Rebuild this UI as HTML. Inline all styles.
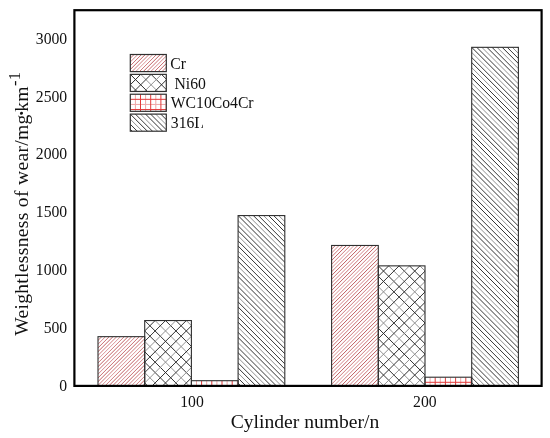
<!DOCTYPE html>
<html><head><meta charset="utf-8"><title>Weightlessness of wear</title>
<style>
html,body{margin:0;padding:0;background:#fff;}
body{width:550px;height:438px;overflow:hidden;}
svg{display:block;}
text{font-family:"Liberation Serif","Times New Roman",serif;fill:#111;}
</style></head><body>
<svg width="550" height="438" viewBox="0 0 550 438">
<rect x="0" y="0" width="550" height="438" fill="#fff"/>
<clipPath id="c1"><rect x="98" y="336.66" width="46.7" height="49.24"/></clipPath>
<g clip-path="url(#c1)" fill="none">
<path d="M102.75,335.66L51.51,386.9M110.25,335.66L59.01,386.9M132.75,335.66L81.51,386.9M140.25,335.66L89.01,386.9M162.75,335.66L111.51,386.9M170.25,335.66L119.01,386.9M192.75,335.66L141.51,386.9" stroke="#c6666a" stroke-width="0.95"/>
<path d="M106.5,335.66L55.26,386.9M136.5,335.66L85.26,386.9M166.5,335.66L115.26,386.9" stroke="#d28185" stroke-width="0.95"/>
<path d="M114,335.66L62.76,386.9M129,335.66L77.76,386.9M144,335.66L92.76,386.9M159,335.66L107.76,386.9M174,335.66L122.76,386.9M189,335.66L137.76,386.9" stroke="#bd5558" stroke-width="0.95"/>
<path d="M117.75,335.66L66.51,386.9M125.25,335.66L74.01,386.9M147.75,335.66L96.51,386.9M155.25,335.66L104.01,386.9M177.75,335.66L126.51,386.9M185.25,335.66L134.01,386.9" stroke="#cb7276" stroke-width="0.95"/>
<path d="M121.5,335.66L70.26,386.9M151.5,335.66L100.26,386.9M181.5,335.66L130.26,386.9" stroke="#d88e91" stroke-width="0.95"/>
</g>
<rect x="98" y="336.66" width="46.7" height="49.24" fill="none" stroke="#303030" stroke-width="1.1"/>
<clipPath id="c2"><rect x="144.7" y="320.55" width="46.7" height="65.35"/></clipPath>
<g clip-path="url(#c2)" fill="none">
<path d="M70.9,319.55L138.25,386.9M102.1,319.55L169.45,386.9M133.3,319.55L200.65,386.9M164.5,319.55L231.85,386.9" stroke="#2c2c2c" stroke-width="0.95"/>
<path d="M81.3,319.55L148.65,386.9M112.5,319.55L179.85,386.9M143.7,319.55L211.05,386.9M174.9,319.55L242.25,386.9" stroke="#242424" stroke-width="0.95"/>
<path d="M91.7,319.55L159.05,386.9M122.9,319.55L190.25,386.9M154.1,319.55L221.45,386.9M185.3,319.55L252.65,386.9" stroke="#8a8a8a" stroke-width="0.95"/>
<path d="M156.1,319.55L88.75,386.9M187.3,319.55L119.95,386.9M218.5,319.55L151.15,386.9M249.7,319.55L182.35,386.9" stroke="#242424" stroke-width="0.95"/>
<path d="M166.5,319.55L99.15,386.9M197.7,319.55L130.35,386.9M228.9,319.55L161.55,386.9" stroke="#2c2c2c" stroke-width="0.95"/>
<path d="M176.9,319.55L109.55,386.9M208.1,319.55L140.75,386.9M239.3,319.55L171.95,386.9" stroke="#8a8a8a" stroke-width="0.95"/>
</g>
<rect x="144.7" y="320.55" width="46.7" height="65.35" fill="none" stroke="#303030" stroke-width="1.1"/>
<clipPath id="c3"><rect x="191.4" y="380.69" width="46.7" height="5.21"/></clipPath>
<g clip-path="url(#c3)" fill="none">
<path d="M196.5,380.69V385.9M206.7,380.69V385.9M216.9,380.69V385.9M227.1,380.69V385.9M237.3,380.69V385.9" stroke="#efa6a6" stroke-width="1"/>
<path d="M201.6,380.69V385.9M211.8,380.69V385.9M222,380.69V385.9M232.2,380.69V385.9M191.4,385.79H238.1" stroke="#e23a3a" stroke-width="1"/>
</g>
<rect x="191.4" y="380.69" width="46.7" height="5.21" fill="none" stroke="#303030" stroke-width="1.1"/>
<clipPath id="c4"><rect x="238.1" y="215.57" width="46.7" height="170.33"/></clipPath>
<g clip-path="url(#c4)" fill="none">
<path d="M64.38,214.57L236.71,386.9M79.62,214.57L251.95,386.9M94.86,214.57L267.19,386.9M110.1,214.57L282.43,386.9M125.34,214.57L297.67,386.9M140.58,214.57L312.91,386.9M155.82,214.57L328.15,386.9M171.06,214.57L343.39,386.9M186.3,214.57L358.63,386.9M201.54,214.57L373.87,386.9M216.78,214.57L389.11,386.9M232.02,214.57L404.35,386.9M247.26,214.57L419.59,386.9M262.5,214.57L434.83,386.9M277.74,214.57L450.07,386.9" stroke="#8a8a8a" stroke-width="0.95"/>
<path d="M69.46,214.57L241.79,386.9M84.7,214.57L257.03,386.9M99.94,214.57L272.27,386.9M115.18,214.57L287.51,386.9M130.42,214.57L302.75,386.9M145.66,214.57L317.99,386.9M160.9,214.57L333.23,386.9M176.14,214.57L348.47,386.9M191.38,214.57L363.71,386.9M206.62,214.57L378.95,386.9M221.86,214.57L394.19,386.9M237.1,214.57L409.43,386.9M252.34,214.57L424.67,386.9M267.58,214.57L439.91,386.9M282.82,214.57L455.15,386.9" stroke="#262626" stroke-width="0.95"/>
<path d="M74.54,214.57L246.87,386.9M89.78,214.57L262.11,386.9M105.02,214.57L277.35,386.9M120.26,214.57L292.59,386.9M135.5,214.57L307.83,386.9M150.74,214.57L323.07,386.9M165.98,214.57L338.31,386.9M181.22,214.57L353.55,386.9M196.46,214.57L368.79,386.9M211.7,214.57L384.03,386.9M226.94,214.57L399.27,386.9M242.18,214.57L414.51,386.9M257.42,214.57L429.75,386.9M272.66,214.57L444.99,386.9" stroke="#2e2e2e" stroke-width="0.95"/>
</g>
<rect x="238.1" y="215.57" width="46.7" height="170.33" fill="none" stroke="#303030" stroke-width="1.1"/>
<clipPath id="c5"><rect x="331.6" y="245.47" width="46.7" height="140.43"/></clipPath>
<g clip-path="url(#c5)" fill="none">
<path d="M336.35,244.47L193.92,386.9M343.85,244.47L201.42,386.9M366.35,244.47L223.92,386.9M373.85,244.47L231.42,386.9M396.35,244.47L253.92,386.9M403.85,244.47L261.42,386.9M426.35,244.47L283.92,386.9M433.85,244.47L291.42,386.9M456.35,244.47L313.92,386.9M463.85,244.47L321.42,386.9M486.35,244.47L343.92,386.9M493.85,244.47L351.42,386.9M516.35,244.47L373.92,386.9" stroke="#c6666a" stroke-width="0.95"/>
<path d="M340.1,244.47L197.67,386.9M370.1,244.47L227.67,386.9M400.1,244.47L257.67,386.9M430.1,244.47L287.67,386.9M460.1,244.47L317.67,386.9M490.1,244.47L347.67,386.9M520.1,244.47L377.67,386.9" stroke="#d28185" stroke-width="0.95"/>
<path d="M347.6,244.47L205.17,386.9M362.6,244.47L220.17,386.9M377.6,244.47L235.17,386.9M392.6,244.47L250.17,386.9M407.6,244.47L265.17,386.9M422.6,244.47L280.17,386.9M437.6,244.47L295.17,386.9M452.6,244.47L310.17,386.9M467.6,244.47L325.17,386.9M482.6,244.47L340.17,386.9M497.6,244.47L355.17,386.9M512.6,244.47L370.17,386.9" stroke="#bd5558" stroke-width="0.95"/>
<path d="M351.35,244.47L208.92,386.9M358.85,244.47L216.42,386.9M381.35,244.47L238.92,386.9M388.85,244.47L246.42,386.9M411.35,244.47L268.92,386.9M418.85,244.47L276.42,386.9M441.35,244.47L298.92,386.9M448.85,244.47L306.42,386.9M471.35,244.47L328.92,386.9M478.85,244.47L336.42,386.9M501.35,244.47L358.92,386.9M508.85,244.47L366.42,386.9" stroke="#cb7276" stroke-width="0.95"/>
<path d="M355.1,244.47L212.67,386.9M385.1,244.47L242.67,386.9M415.1,244.47L272.67,386.9M445.1,244.47L302.67,386.9M475.1,244.47L332.67,386.9M505.1,244.47L362.67,386.9" stroke="#d88e91" stroke-width="0.95"/>
</g>
<rect x="331.6" y="245.47" width="46.7" height="140.43" fill="none" stroke="#303030" stroke-width="1.1"/>
<clipPath id="c6"><rect x="378.3" y="265.86" width="46.7" height="120.04"/></clipPath>
<g clip-path="url(#c6)" fill="none">
<path d="M252.5,264.86L374.54,386.9M283.7,264.86L405.74,386.9M314.9,264.86L436.94,386.9M346.1,264.86L468.14,386.9M377.3,264.86L499.34,386.9M408.5,264.86L530.54,386.9" stroke="#242424" stroke-width="0.95"/>
<path d="M262.9,264.86L384.94,386.9M294.1,264.86L416.14,386.9M325.3,264.86L447.34,386.9M356.5,264.86L478.54,386.9M387.7,264.86L509.74,386.9M418.9,264.86L540.94,386.9" stroke="#8a8a8a" stroke-width="0.95"/>
<path d="M273.3,264.86L395.34,386.9M304.5,264.86L426.54,386.9M335.7,264.86L457.74,386.9M366.9,264.86L488.94,386.9M398.1,264.86L520.14,386.9" stroke="#2c2c2c" stroke-width="0.95"/>
<path d="M389.7,264.86L267.66,386.9M420.9,264.86L298.86,386.9M452.1,264.86L330.06,386.9M483.3,264.86L361.26,386.9M514.5,264.86L392.46,386.9M545.7,264.86L423.66,386.9" stroke="#242424" stroke-width="0.95"/>
<path d="M400.1,264.86L278.06,386.9M431.3,264.86L309.26,386.9M462.5,264.86L340.46,386.9M493.7,264.86L371.66,386.9M524.9,264.86L402.86,386.9" stroke="#2c2c2c" stroke-width="0.95"/>
<path d="M410.5,264.86L288.46,386.9M441.7,264.86L319.66,386.9M472.9,264.86L350.86,386.9M504.1,264.86L382.06,386.9M535.3,264.86L413.26,386.9" stroke="#8a8a8a" stroke-width="0.95"/>
</g>
<rect x="378.3" y="265.86" width="46.7" height="120.04" fill="none" stroke="#303030" stroke-width="1.1"/>
<clipPath id="c7"><rect x="425" y="377.21" width="46.7" height="8.69"/></clipPath>
<g clip-path="url(#c7)" fill="none">
<path d="M430.1,377.21V385.9M440.3,377.21V385.9M450.5,377.21V385.9M460.7,377.21V385.9M470.9,377.21V385.9" stroke="#efa6a6" stroke-width="1"/>
<path d="M435.2,377.21V385.9M445.4,377.21V385.9M455.6,377.21V385.9M465.8,377.21V385.9M425,382.31H471.7" stroke="#e23a3a" stroke-width="1"/>
</g>
<rect x="425" y="377.21" width="46.7" height="8.69" fill="none" stroke="#303030" stroke-width="1.1"/>
<clipPath id="c8"><rect x="471.7" y="47.33" width="46.7" height="338.57"/></clipPath>
<g clip-path="url(#c8)" fill="none">
<path d="M130.34,46.33L470.91,386.9M145.58,46.33L486.15,386.9M160.82,46.33L501.39,386.9M176.06,46.33L516.63,386.9M191.3,46.33L531.87,386.9M206.54,46.33L547.11,386.9M221.78,46.33L562.35,386.9M237.02,46.33L577.59,386.9M252.26,46.33L592.83,386.9M267.5,46.33L608.07,386.9M282.74,46.33L623.31,386.9M297.98,46.33L638.55,386.9M313.22,46.33L653.79,386.9M328.46,46.33L669.03,386.9M343.7,46.33L684.27,386.9M358.94,46.33L699.51,386.9M374.18,46.33L714.75,386.9M389.42,46.33L729.99,386.9M404.66,46.33L745.23,386.9M419.9,46.33L760.47,386.9M435.14,46.33L775.71,386.9M450.38,46.33L790.95,386.9M465.62,46.33L806.19,386.9M480.86,46.33L821.43,386.9M496.1,46.33L836.67,386.9M511.34,46.33L851.91,386.9" stroke="#8a8a8a" stroke-width="0.95"/>
<path d="M135.42,46.33L475.99,386.9M150.66,46.33L491.23,386.9M165.9,46.33L506.47,386.9M181.14,46.33L521.71,386.9M196.38,46.33L536.95,386.9M211.62,46.33L552.19,386.9M226.86,46.33L567.43,386.9M242.1,46.33L582.67,386.9M257.34,46.33L597.91,386.9M272.58,46.33L613.15,386.9M287.82,46.33L628.39,386.9M303.06,46.33L643.63,386.9M318.3,46.33L658.87,386.9M333.54,46.33L674.11,386.9M348.78,46.33L689.35,386.9M364.02,46.33L704.59,386.9M379.26,46.33L719.83,386.9M394.5,46.33L735.07,386.9M409.74,46.33L750.31,386.9M424.98,46.33L765.55,386.9M440.22,46.33L780.79,386.9M455.46,46.33L796.03,386.9M470.7,46.33L811.27,386.9M485.94,46.33L826.51,386.9M501.18,46.33L841.75,386.9M516.42,46.33L856.99,386.9" stroke="#262626" stroke-width="0.95"/>
<path d="M140.5,46.33L481.07,386.9M155.74,46.33L496.31,386.9M170.98,46.33L511.55,386.9M186.22,46.33L526.79,386.9M201.46,46.33L542.03,386.9M216.7,46.33L557.27,386.9M231.94,46.33L572.51,386.9M247.18,46.33L587.75,386.9M262.42,46.33L602.99,386.9M277.66,46.33L618.23,386.9M292.9,46.33L633.47,386.9M308.14,46.33L648.71,386.9M323.38,46.33L663.95,386.9M338.62,46.33L679.19,386.9M353.86,46.33L694.43,386.9M369.1,46.33L709.67,386.9M384.34,46.33L724.91,386.9M399.58,46.33L740.15,386.9M414.82,46.33L755.39,386.9M430.06,46.33L770.63,386.9M445.3,46.33L785.87,386.9M460.54,46.33L801.11,386.9M475.78,46.33L816.35,386.9M491.02,46.33L831.59,386.9M506.26,46.33L846.83,386.9" stroke="#2e2e2e" stroke-width="0.95"/>
</g>
<rect x="471.7" y="47.33" width="46.7" height="338.57" fill="none" stroke="#303030" stroke-width="1.1"/>

<rect x="74.4" y="10.2" width="467.2" height="375.7" fill="none" stroke="#000" stroke-width="2.2"/>
<text x="67.2" y="391.20" text-anchor="end" font-size="15.7">0</text>
<text x="67.2" y="333.26" text-anchor="end" font-size="15.7">500</text>
<text x="67.2" y="275.33" text-anchor="end" font-size="15.7">1000</text>
<text x="67.2" y="217.39" text-anchor="end" font-size="15.7">1500</text>
<text x="67.2" y="159.46" text-anchor="end" font-size="15.7">2000</text>
<text x="67.2" y="101.52" text-anchor="end" font-size="15.7">2500</text>
<text x="67.2" y="43.59" text-anchor="end" font-size="15.7">3000</text>

<text x="192" y="406.8" text-anchor="middle" font-size="15.7">100</text>
<text x="424.8" y="406.8" text-anchor="middle" font-size="15.7">200</text>
<text x="305" y="428.4" text-anchor="middle" font-size="19.6">Cylinder number/n</text>
<text transform="translate(28,335.8) rotate(-90)" font-size="19.6" letter-spacing="0.3">Weightlessness of wear/mg<tspan dx="-2.1" font-weight="bold">·</tspan><tspan dx="-2.1">km</tspan><tspan font-size="16.5" dy="-8">-1</tspan></text>
<clipPath id="c9"><rect x="130.3" y="54.5" width="36" height="17.1"/></clipPath>
<g clip-path="url(#c9)" fill="none">
<path d="M135.05,53.5L115.95,72.6M142.55,53.5L123.45,72.6M165.05,53.5L145.95,72.6M172.55,53.5L153.45,72.6" stroke="#c6666a" stroke-width="0.95"/>
<path d="M138.8,53.5L119.7,72.6M168.8,53.5L149.7,72.6" stroke="#d28185" stroke-width="0.95"/>
<path d="M146.3,53.5L127.2,72.6M161.3,53.5L142.2,72.6M176.3,53.5L157.2,72.6" stroke="#bd5558" stroke-width="0.95"/>
<path d="M150.05,53.5L130.95,72.6M157.55,53.5L138.45,72.6M180.05,53.5L160.95,72.6" stroke="#cb7276" stroke-width="0.95"/>
<path d="M153.8,53.5L134.7,72.6M183.8,53.5L164.7,72.6" stroke="#d88e91" stroke-width="0.95"/>
</g>
<rect x="130.3" y="54.5" width="36" height="17.1" fill="none" stroke="#303030" stroke-width="1.2"/>
<text x="170.3" y="68.70" font-size="15.7" xml:space="preserve">Cr</text>
<clipPath id="c10"><rect x="130.3" y="74.37" width="36" height="17.1"/></clipPath>
<g clip-path="url(#c10)" fill="none">
<path d="M108.5,73.37L127.6,92.47M139.7,73.37L158.8,92.47" stroke="#8a8a8a" stroke-width="0.95"/>
<path d="M118.9,73.37L138,92.47M150.1,73.37L169.2,92.47" stroke="#2c2c2c" stroke-width="0.95"/>
<path d="M129.3,73.37L148.4,92.47M160.5,73.37L179.6,92.47" stroke="#242424" stroke-width="0.95"/>
<path d="M141.7,73.37L122.6,92.47M172.9,73.37L153.8,92.47" stroke="#242424" stroke-width="0.95"/>
<path d="M152.1,73.37L133,92.47M183.3,73.37L164.2,92.47" stroke="#2c2c2c" stroke-width="0.95"/>
<path d="M162.5,73.37L143.4,92.47" stroke="#8a8a8a" stroke-width="0.95"/>
</g>
<rect x="130.3" y="74.37" width="36" height="17.1" fill="none" stroke="#303030" stroke-width="1.2"/>
<text x="170.6" y="88.57" font-size="15.7" xml:space="preserve"> Ni60</text>
<clipPath id="c11"><rect x="130.3" y="94.24" width="36" height="17.1"/></clipPath>
<g clip-path="url(#c11)" fill="none">
<path d="M135.4,94.24V111.34M145.6,94.24V111.34M155.8,94.24V111.34M166,94.24V111.34M130.3,104.44H166.3" stroke="#efa6a6" stroke-width="1"/>
<path d="M140.5,94.24V111.34M150.7,94.24V111.34M160.9,94.24V111.34M130.3,99.34H166.3M130.3,109.54H166.3" stroke="#e23a3a" stroke-width="1"/>
</g>
<rect x="130.3" y="94.24" width="36" height="17.1" fill="none" stroke="#303030" stroke-width="1.2"/>
<text x="170.8" y="108.44" font-size="15.7" xml:space="preserve">WC10Co4Cr</text>
<clipPath id="c12"><rect x="130.3" y="114.11" width="36" height="17.1"/></clipPath>
<g clip-path="url(#c12)" fill="none">
<path d="M108.98,113.11L128.08,132.21M124.22,113.11L143.32,132.21M139.46,113.11L158.56,132.21M154.7,113.11L173.8,132.21" stroke="#8a8a8a" stroke-width="0.95"/>
<path d="M114.06,113.11L133.16,132.21M129.3,113.11L148.4,132.21M144.54,113.11L163.64,132.21M159.78,113.11L178.88,132.21" stroke="#262626" stroke-width="0.95"/>
<path d="M119.14,113.11L138.24,132.21M134.38,113.11L153.48,132.21M149.62,113.11L168.72,132.21M164.86,113.11L183.96,132.21" stroke="#2e2e2e" stroke-width="0.95"/>
</g>
<rect x="130.3" y="114.11" width="36" height="17.1" fill="none" stroke="#303030" stroke-width="1.2"/>
<text x="170.8" y="128.31" font-size="15.7" xml:space="preserve">316L</text>

<rect x="198.9" y="123.6" width="2.5" height="5" fill="#fff"/>
</svg>
</body></html>
